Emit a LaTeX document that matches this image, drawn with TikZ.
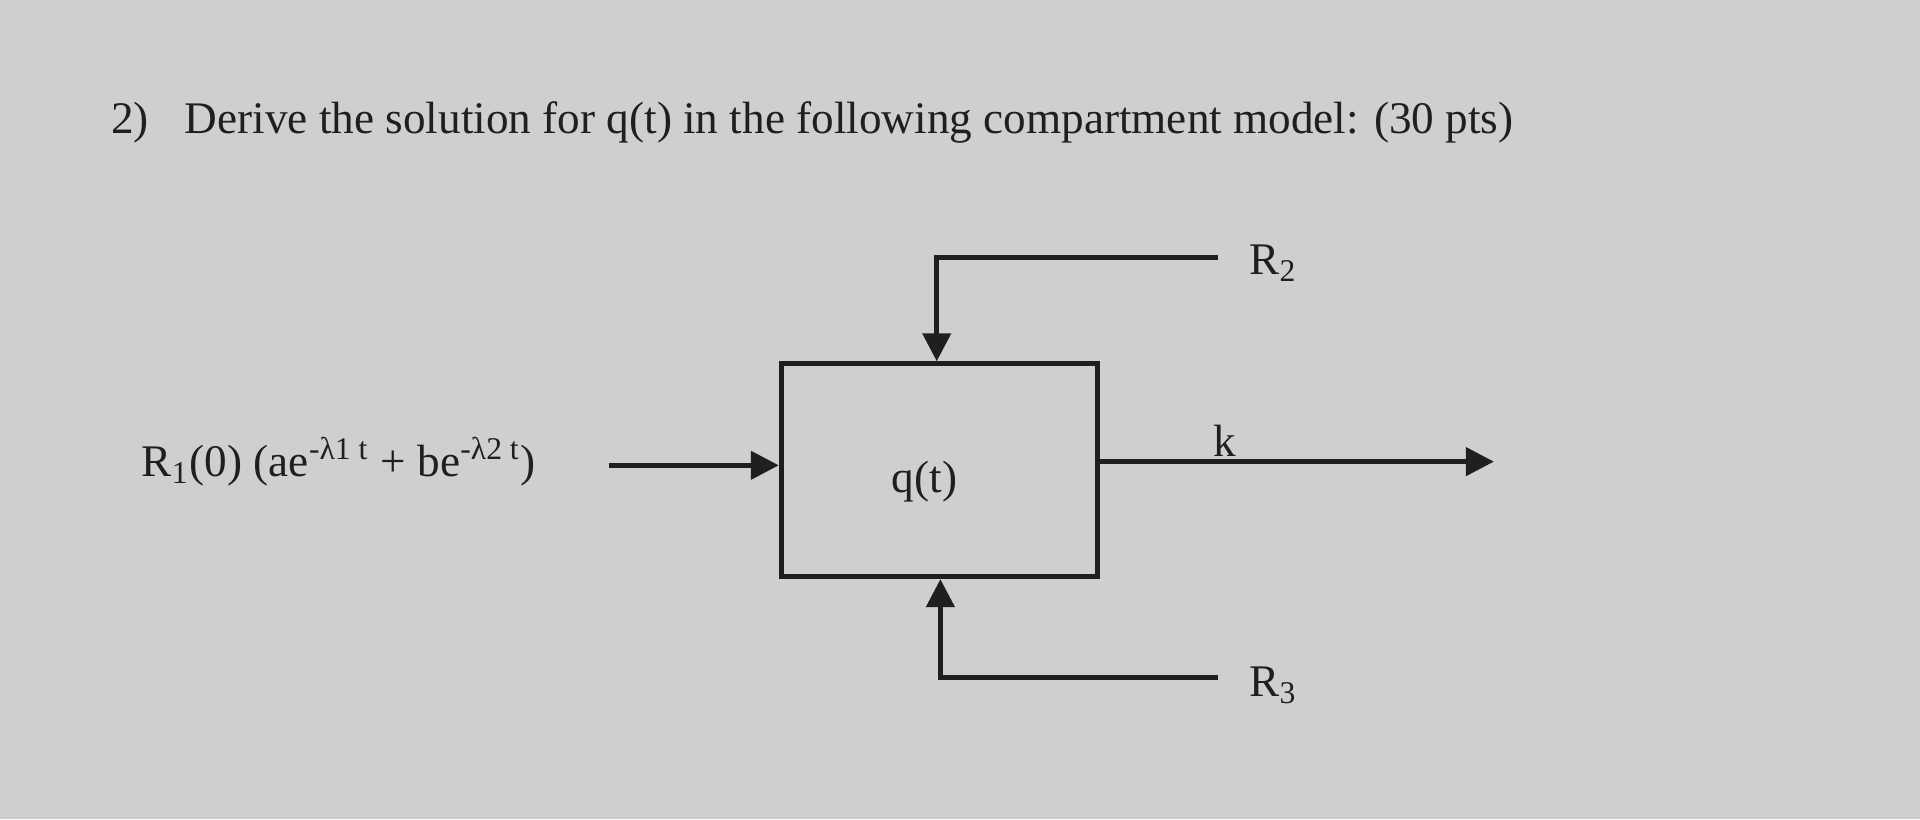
\documentclass[tikz,border=0pt]{standalone}
\usepackage{fontspec}
\setmainfont{Liberation Serif}
\usetikzlibrary{arrows.meta}
\begin{document}
\begin{tikzpicture}[x=0.01cm,y=-0.01cm,
  line/.style={line width=1.1pt,draw=black!88},
  arr/.style={line,-{Triangle[length=6.5pt,width=6.5pt]}},
  lbl/.style={font=\fontsize{10.5}{12}\selectfont,text=black!88,inner sep=0pt}]
\fill[gray!38!white] (0,0) rectangle (1568,669);
\useasboundingbox (0,0) rectangle (1568,669);
\node[lbl,anchor=west] (title) at (90,100) {2)\hspace{0.8em}Derive the solution for q(t) in the following compartment model: (30 pts)};
\node[line,draw,minimum width=2.58cm,minimum height=1.74cm,inner sep=0pt] (box) at (767,384) {};
\node[lbl] (q) at (755,393) {q(t)};
\coordinate (inS) at (497,380);
\draw[arr] (inS) -- (inS -| box.west);
\node[lbl,anchor=west] (r1) at (115,377) {R\textsubscript{1}(0) (ae\textsuperscript{-λ1 t} + be\textsuperscript{-λ2 t})};
\coordinate (outE) at (1220,377);
\draw[arr] (outE -| box.east) -- (outE);
\node[lbl] (k) at (1000,360) {k};
\coordinate (r2s) at (995,210);
\coordinate (r2c) at (765,210);
\draw[arr] (r2s) -- (r2c) -- (r2c |- box.north);
\node[lbl] (r2) at (1040,215) {R\textsubscript{2}};
\coordinate (r3s) at (995,553);
\coordinate (r3c) at (768,553);
\draw[arr] (r3s) -- (r3c) -- (r3c |- box.south);
\node[lbl] (r3) at (1040,560) {R\textsubscript{3}};
\end{tikzpicture}
\end{document}
